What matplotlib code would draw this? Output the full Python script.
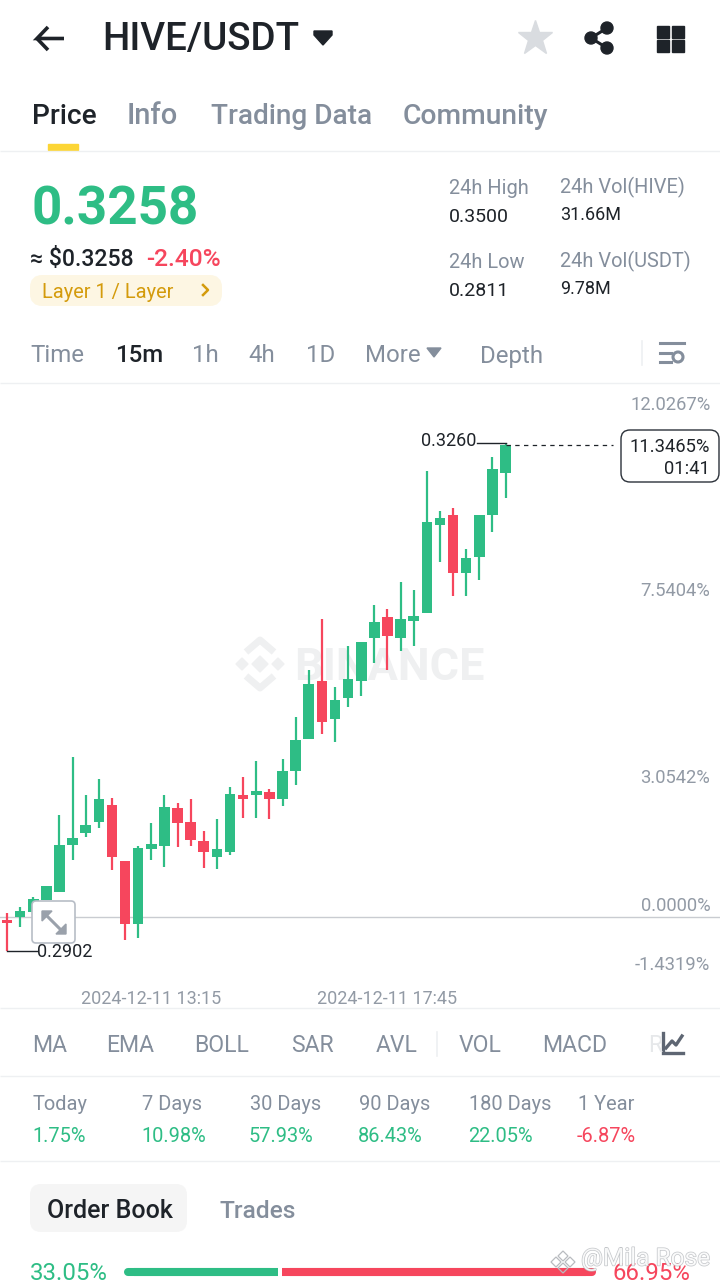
import matplotlib
matplotlib.use("Agg")
import matplotlib.pyplot as plt
import matplotlib.patheffects as pe
from matplotlib.patches import FancyBboxPatch, Rectangle, Polygon, Circle

plt.rcParams["font.family"] = ["Roboto", "DejaVu Sans"]

GREEN = "#2ebd85"
RED = "#f6465d"
DARK = "#1e2329"
GRAY = "#848e9c"
AXIS_GRAY = "#929aa5"
LINE = "#eef0f2"

# candles, % change against the 0.0000% line
open_pct = [-0.07, 0.00, 0.12, 0.41, 0.60, 1.73, 2.02, 2.28, 2.69, 1.34, -0.17, 1.63, 1.70,
            2.62, 2.28, 1.82, 1.44, 1.56, 2.93, 2.93, 3.00, 2.83, 3.50, 4.27, 5.66, 4.75,
            5.26, 5.66, 6.70, 7.20, 6.70, 7.10, 7.30, 9.41, 9.65, 8.26, 8.64, 9.65, 10.66]
high_pct = [0.10, 0.24, 0.48, 0.74, 2.45, 3.84, 2.93, 3.31, 2.86, 1.34, 1.70, 2.26, 2.93,
            2.74, 2.83, 2.06, 2.35, 3.12, 3.36, 3.74, 3.07, 3.79, 4.80, 5.93, 7.15, 5.52,
            6.50, 6.60, 7.49, 7.39, 8.04, 7.85, 10.70, 9.74, 9.82, 8.83, 9.65, 11.04, 11.38]
low_pct = [-0.82, -0.24, 0.05, 0.41, 0.60, 1.37, 1.92, 2.14, 1.13, -0.55, -0.50, 1.37, 1.20,
           1.68, 1.70, 1.18, 1.15, 1.49, 2.38, 2.38, 2.35, 2.66, 3.17, 4.27, 4.39, 4.20,
           5.04, 5.30, 6.10, 5.93, 6.38, 6.50, 7.30, 8.52, 7.70, 7.70, 8.09, 9.24, 10.06]
close_pct = [-0.14, 0.14, 0.43, 0.74, 1.73, 1.90, 2.21, 2.83, 1.44, -0.17, 1.66, 1.75, 2.64,
             2.26, 1.85, 1.56, 1.63, 2.95, 2.83, 3.02, 2.83, 3.50, 4.25, 5.59, 4.68, 5.21,
             5.71, 6.60, 7.08, 6.74, 7.15, 7.22, 9.48, 9.58, 8.26, 8.62, 9.65, 10.75, 11.33]

axis_pct = [12.0267, 7.5404, 3.0542, 0.0, -1.4319]
time_idx = [11, 29]
time_labels = ["2024-12-11 13:15", "2024-12-11 17:45"]
last_pct = 11.3465

periods = ["Today", "7 Days", "30 Days", "90 Days", "180 Days", "1 Year"]
period_x = [33, 142, 250, 359, 469, 578]
period_ret = [1.75, 10.98, 57.93, 86.43, 22.05, -6.87]

bid_share = 33.05
ask_share = 66.95

W, H = 720, 1281
fig = plt.figure(figsize=(7.2, 12.81), dpi=100)

# overlay for all app chrome, in pixels
ui = fig.add_axes([0, 0, 1, 1], zorder=1)
ui.set_xlim(0, W)
ui.set_ylim(H, 0)
ui.axis("off")


def txt(x, y, s, px, color=DARK, ha="left", weight="normal", **kw):
    # Roboto sits a little high with va=center
    return ui.text(x, y + 2, s, fontsize=px * 0.72, color=color, ha=ha, va="center",
                   fontweight=weight, **kw)


def hline(y, x0=0, x1=W, color=LINE, lw=1.0):
    ui.plot([x0, x1], [y, y], color=color, lw=lw, solid_capstyle="butt")


# header
ui.plot([64, 37, 48], [38.5, 38.5, 27], color=DARK, lw=2.6, solid_capstyle="butt", solid_joinstyle="miter")
ui.plot([37, 48], [38.5, 50], color=DARK, lw=2.6, solid_capstyle="butt")
txt(102, 38, "HIVE/USDT", 38.5, weight="medium")
ui.add_patch(Polygon([[314, 31], [332, 31], [332, 35], [323, 45], [314, 35]], color=DARK))
ui.plot([535], [38], marker="*", ms=26, color="#d9dce0", mec="#d9dce0")
ui.plot([607, 591, 607], [28, 38, 48], color=DARK, lw=2.2)
for cx, cy in [(607, 28), (591, 38), (607, 48)]:
    ui.add_patch(Circle((cx, cy), 6, color=DARK))
for x0, y0 in [(657, 26), (672, 26), (657, 40), (672, 40)]:
    ui.add_patch(Rectangle((x0, y0), 12, 11.5, color=DARK))

# tabs
txt(32, 114, "Price", 28, weight="medium")
txt(127, 114, "Info", 29, GRAY, weight="medium")
txt(211, 114, "Trading Data", 28, GRAY, weight="medium")
txt(403, 114, "Community", 28.3, GRAY, weight="medium")
ui.add_patch(Rectangle((48, 144), 30, 6, color="#fcd535"))
hline(151)

# price block
txt(31, 208, "0.3258", 53, GREEN, weight="bold")
txt(30, 258, "≈ $0.3258", 23, weight="medium")
txt(146, 258, "-2.40%", 24.5, RED, weight="medium")
ui.add_patch(FancyBboxPatch((36, 281), 180, 19, boxstyle="round,pad=0,rounding_size=6",
                            mutation_scale=1, fc="#fdf6e3", ec="#fdf6e3", lw=8.6))
txt(42, 290, "Layer 1 / Layer", 20, "#d49b0c")
ui.plot([203, 208, 203], [285, 290, 295], color="#d49b0c", lw=1.8)

txt(449, 187, "24h High", 20, GRAY)
txt(449, 215, "0.3500", 19.5)
txt(449, 261, "24h Low", 20, GRAY)
txt(449, 289, "0.2811", 19.5)
txt(560, 185, "24h Vol(HIVE)", 20, GRAY)
txt(560, 213, "31.66M", 18)
txt(560, 259, "24h Vol(USDT)", 20, GRAY)
txt(560, 287, "9.78M", 18)

# interval row
txt(30, 354, "Time", 24, GRAY)
txt(115, 354, "15m", 24, weight="medium")
txt(192, 354, "1h", 24, GRAY)
txt(248, 354, "4h", 24, GRAY)
txt(306, 354, "1D", 24, GRAY)
txt(365, 354, "More", 24, GRAY)
ui.add_patch(Polygon([[427, 348], [441, 348], [434, 357]], color=GRAY))
txt(480, 354, "Depth", 24, GRAY)
ui.plot([642, 642], [341, 365], color=LINE, lw=1.2)
ui.plot([660, 684], [343, 343], color=GRAY, lw=2.2)
ui.plot([660, 671], [353, 353], color=GRAY, lw=2.2)
ui.plot([660, 671], [362, 362], color=GRAY, lw=2.2)
ui.add_patch(Circle((678, 357), 5, fc="white", ec=GRAY, lw=2.2))
hline(383)

# chart, positioned so that 0% falls on y=917 and one candle step is 13.12 px
top_px, bot_px = 384, 985
px_per_pct = 41.68
step = 13.12
ax = fig.add_axes([0, 1 - bot_px / H, 1, (bot_px - top_px) / H], zorder=2)
ax.patch.set_alpha(0)
ax.set_ylim((917 - bot_px) / px_per_pct, (917 - top_px) / px_per_pct)
ax.set_xlim(-7 / step, (W - 7) / step)
for sp in ax.spines.values():
    sp.set_visible(False)
ax.set_yticks([])
ax.set_xticks(time_idx)
ax.set_xticklabels(time_labels, fontsize=13.0, color=AXIS_GRAY)
ax.tick_params(axis="x", length=0, pad=3.6)

ax.axhline(0, color="#c9ccd1", lw=1.0, zorder=1)

# watermark
mark = "#eff0f1"
for cx, cy, r in [(260, 664, 8), (242, 664, 6), (278, 664, 6)]:
    ui.add_patch(Polygon([[cx - r, cy], [cx, cy - r], [cx + r, cy], [cx, cy + r]], color=mark))
ui.plot([246, 260, 274], [652, 640, 652], color=mark, lw=5, solid_capstyle="butt")
ui.plot([246, 260, 274], [676, 688, 676], color=mark, lw=5, solid_capstyle="butt")
txt(294, 666, "BINANCE", 45, mark, weight="bold")

for i in range(len(open_pct)):
    col = GREEN if close_pct[i] >= open_pct[i] else RED
    ax.plot([i, i], [low_pct[i], high_pct[i]], color=col, lw=1.6, solid_capstyle="butt", zorder=3)
    ax.bar(i, abs(close_pct[i] - open_pct[i]), bottom=min(open_pct[i], close_pct[i]),
           width=10.6 / step, color=col, lw=0, zorder=4)

# right axis labels sit just above their level
for v in axis_pct:
    ax.annotate(f"{v:.4f}%", (1, v), xycoords=("axes fraction", "data"), xytext=(-7, 1.6),
                textcoords="offset points", ha="right", va="bottom", fontsize=13.2, color=AXIS_GRAY)

# high / low callouts
hi_i = high_pct.index(max(high_pct))
lo_i = low_pct.index(min(low_pct))
ax.plot([hi_i - 2.2, hi_i], [high_pct[hi_i]] * 2, color=DARK, lw=1.0, zorder=5)
ax.plot([lo_i, lo_i + 2.3], [low_pct[lo_i]] * 2, color=DARK, lw=1.0, zorder=5)
ax.text(hi_i - 2.25, high_pct[hi_i] + 0.03, "0.3260", fontsize=13, color=DARK, ha="right", va="center")
ax.text(lo_i + 2.3, low_pct[lo_i] - 0.03, "0.2902", fontsize=13, color=DARK, ha="left", va="center")

# last price
ax.plot([38, 46.2], [last_pct - 0.02, last_pct - 0.02], color=DARK, lw=0.9, dashes=(3.5, 3.5), zorder=5)
over = fig.add_axes([0, 0, 1, 1], zorder=3)
over.set_xlim(0, W)
over.set_ylim(H, 0)
over.axis("off")
over.add_patch(FancyBboxPatch((621, 430), 98, 52, boxstyle="round,pad=0,rounding_size=9",
                              mutation_scale=1, fc="white", ec="#2b3139", lw=1.0))
over.text(710, 447, f"{last_pct:.4f}%", fontsize=13.2, color=DARK, ha="right", va="center")
over.text(710, 469, "01:41", fontsize=13.2, color=DARK, ha="right", va="center")

# expand button
over.add_patch(FancyBboxPatch((32, 901), 43, 42, boxstyle="round,pad=0,rounding_size=4",
                              mutation_scale=1, fc="white", ec="#b7bdc6", lw=1.2))
over.plot([44, 62], [913, 931], color="#9aa1ab", lw=2.2)
over.add_patch(Polygon([[42, 911], [52, 911], [42, 921]], color="#9aa1ab"))
over.add_patch(Polygon([[66, 934], [56, 934], [66, 924]], color="#9aa1ab"))

# indicators
hline(1008)
for x, s in zip([32, 106, 194, 291, 376, 459, 542], ["MA", "EMA", "BOLL", "SAR", "AVL", "VOL", "MACD"]):
    txt(x, 1043, s, 23, GRAY)
txt(648, 1043, "R", 23, "#e6e8ea")
ui.plot([437, 437], [1032, 1056], color=LINE, lw=1.2)
ui.plot([663, 663, 683], [1033, 1053, 1053], color="#5e6673", lw=2.4, solid_joinstyle="miter")
ui.plot([666, 672, 676, 682], [1048, 1041, 1045, 1036], color="#5e6673", lw=2.4)
hline(1076)

# period returns
for x, name, val in zip(period_x, periods, period_ret):
    txt(x, 1102, name, 20, GRAY)
    txt(x - 1, 1134, f"{val:.2f}%", 20, GREEN if val >= 0 else RED)
hline(1161)

# order book
ui.add_patch(FancyBboxPatch((30, 1184), 157, 48, boxstyle="round,pad=0,rounding_size=11",
                            mutation_scale=1, fc="#f5f5f5", ec="none"))
txt(47, 1209, "Order Book", 25, weight="medium")
txt(220, 1209, "Trades", 24.5, GRAY, weight="medium")

bar_x0, bar_w = 124, 472
split = bar_x0 + bar_w * bid_share / (bid_share + ask_share)
ui.plot([bar_x0 + 4, split - 10], [1272, 1272], color=GREEN, lw=5.8, solid_capstyle="round")
ui.plot([bar_x0 + 10, split - 2], [1272, 1272], color=GREEN, lw=5.8, solid_capstyle="butt")
ui.plot([split + 10, bar_x0 + bar_w - 4], [1272, 1272], color=RED, lw=5.8, solid_capstyle="round")
ui.plot([split + 2, bar_x0 + bar_w - 10], [1272, 1272], color=RED, lw=5.8, solid_capstyle="butt")
txt(30, 1272, f"{bid_share:.2f}%", 24, GREEN)
txt(612, 1272, f"{ask_share:.2f}%", 24, RED)

# image watermark
over.text(581, 1259, "@Mila Rose", fontsize=17.6, color="white", ha="left", va="center", alpha=0.85,
          path_effects=[pe.withStroke(linewidth=1.0, foreground="#b9bcc0")])
for cx, cy in [(563, 1256), (556, 1262), (570, 1262), (563, 1268)]:
    over.add_patch(Polygon([[cx - 5, cy], [cx, cy - 5], [cx + 5, cy], [cx, cy + 5]], fc="none", ec="#b9bcc0", lw=0.9))

fig.savefig("out.png", dpi=100)
